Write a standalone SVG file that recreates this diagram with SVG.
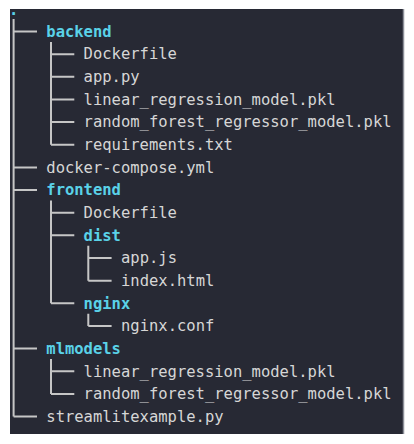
<svg xmlns="http://www.w3.org/2000/svg" width="414" height="444" viewBox="0 0 414 444">
<style>
  text { font-family: "DejaVu Sans Mono", "Liberation Mono", monospace; font-size: 15.5px; }
  .f { fill: #d6d6d6; }
  .d { fill: #5ad2e8; font-weight: bold; }
  .ln { stroke: #c6c6c6; stroke-width: 2; fill: none; }
</style>
<rect x="0" y="0" width="414" height="444" fill="#ffffff"/>
<rect x="10" y="9" width="394" height="425" fill="#272934"/>
<line x1="403.5" y1="9" x2="403.5" y2="434" stroke="#8c8f98" stroke-width="1.5"/>
<g id="connectors" class="ln">
  <path d="M13.6 19V416.55M13.6 31.5H37M13.6 167.4H37M13.6 190.05H37M13.6 348.6H37M13.6 416.55H37"/>
  <path d="M51 42V144.75M51 54.15H74.3M51 76.8H74.3M51 99.45H74.3M51 122.1H74.3M51 144.75H74.3"/>
  <path d="M51 200.5V303.3M51 212.7H74.3M51 235.35H74.3M51 303.3H74.3"/>
  <path d="M88.3 245.8V280.65M88.3 258H111.6M88.3 280.65H111.6"/>
  <path d="M88.3 313.8V325.95M88.3 325.95H111.6"/>
  <path d="M51 359V393.9M51 371.25H74.3M51 393.9H74.3"/>
</g>
<g id="root"><text class="d" x="9" y="15">.</text></g>
<g id="backend"><text class="d" x="46.3" y="36.8">backend</text></g>
<g id="backend-dockerfile"><text class="f" x="83.6" y="59.45">Dockerfile</text></g>
<g id="backend-app"><text class="f" x="83.6" y="82.1">app.py</text></g>
<g id="backend-linear"><text class="f" x="83.6" y="104.75">linear_regression_model.pkl</text></g>
<g id="backend-random"><text class="f" x="83.6" y="127.4">random_forest_regressor_model.pkl</text></g>
<g id="backend-req"><text class="f" x="83.6" y="150.05">requirements.txt</text></g>
<g id="docker-compose"><text class="f" x="46.3" y="172.7">docker-compose.yml</text></g>
<g id="frontend"><text class="d" x="46.3" y="195.35">frontend</text></g>
<g id="frontend-dockerfile"><text class="f" x="83.6" y="218">Dockerfile</text></g>
<g id="dist"><text class="d" x="83.6" y="240.65">dist</text></g>
<g id="dist-app"><text class="f" x="121" y="263.3">app.js</text></g>
<g id="dist-index"><text class="f" x="121" y="285.95">index.html</text></g>
<g id="nginx"><text class="d" x="83.6" y="308.6">nginx</text></g>
<g id="nginx-conf"><text class="f" x="121" y="331.25">nginx.conf</text></g>
<g id="mlmodels"><text class="d" x="46.3" y="353.9">mlmodels</text></g>
<g id="ml-linear"><text class="f" x="83.6" y="376.55">linear_regression_model.pkl</text></g>
<g id="ml-random"><text class="f" x="83.6" y="399.2">random_forest_regressor_model.pkl</text></g>
<g id="streamlit"><text class="f" x="46.3" y="421.85">streamlitexample.py</text></g>
</svg>
